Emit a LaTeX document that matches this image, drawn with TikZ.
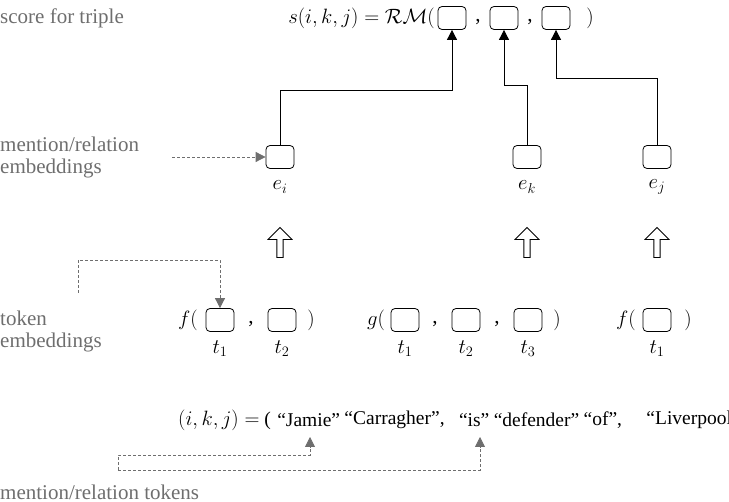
\documentclass[tikz,border=0pt]{standalone}
\usepackage{fontspec}
\setmainfont{Liberation Serif}
\usetikzlibrary{arrows.meta,shapes.arrows}
\definecolor{labelgray}{RGB}{110,110,110}
\tikzset{
  every node/.style={font=\fontsize{21}{22}\selectfont},
  slot/.style={draw, thick, rounded corners=4pt, minimum width=28pt, minimum height=23pt, inner sep=0pt},
  side/.style={text=labelgray, anchor=west, inner sep=0pt, align=left},
  word/.style={anchor=west, inner sep=0pt, font=\fontsize{19.5}{21}\selectfont},
  pointer/.style={densely dashed, thick, labelgray, -{Triangle[length=10pt,width=10pt]}},
  feed/.style={thick, -{Triangle[length=10pt,width=10pt]}},
  lift/.style={single arrow, draw, thick, shape border rotate=90, minimum height=30pt, minimum width=24pt, single arrow head extend=4pt, inner sep=1pt}
}
\begin{document}
\begin{tikzpicture}[x=1pt, y=-1pt]
  \useasboundingbox (0,0) rectangle (729,502);

  % score row
  \node[side] (score) at (0,18) {score for triple};
  \node[anchor=east, inner sep=0pt] (rm) at (435,18) {$s(i,k,j) = \mathcal{RM}($};
  \node[slot] (ri) at (452,18) {};
  \node[slot] (rk) at (504,18) {};
  \node[slot] (rj) at (556,18) {};
  \node at (478,22) {,};
  \node at (530,22) {,};
  \node at (590,18) {$)$};

  % mention/relation embeddings
  \node[side] (membtxt) at (0,157) {mention/relation\\embeddings};
  \node[slot] (ei) at (280,157) {};
  \node[slot] (ek) at (527,157) {};
  \node[slot] (ej) at (657,157) {};
  \node (eil) at (280,187) {$e_i$};
  \node (ekl) at (527,187) {$e_k$};
  \node (ejl) at (657,187) {$e_j$};
  \coordinate (membend) at (172,157);
  \draw[pointer] (membend) -- (ei.west);
  \draw[feed] (ei.north) |- (452,90) -- (ri.south);
  \draw[feed] (ek.north) |- (504,85) -- (rk.south);
  \draw[feed] (ej.north) |- (556,78) -- (rj.south);

  % composition arrows
  \node[lift] (ui) at (280,244) {};
  \node[lift] (uk) at (527,244) {};
  \node[lift] (uj) at (657,244) {};

  % token embeddings
  \node[side] (tembtxt) at (0,331) {token\\embeddings};
  \node (fa) at (188,320) {$f($};
  \node[slot] (ta) at (220,320) {};
  \node at (251,324) {,};
  \node[slot] (tb) at (282,320) {};
  \node at (311,320) {$)$};
  \node (ga) at (376,320) {$g($};
  \node[slot] (tc) at (405,320) {};
  \node at (435,324) {,};
  \node[slot] (td) at (466,320) {};
  \node at (497,324) {,};
  \node[slot] (te) at (528,320) {};
  \node at (557,320) {$)$};
  \node (fb) at (626,320) {$f($};
  \node[slot] (tf) at (657,320) {};
  \node at (688,320) {$)$};
  \node at (220,349) {$t_1$};
  \node at (282,349) {$t_2$};
  \node at (405,349) {$t_1$};
  \node at (466,349) {$t_2$};
  \node at (528,349) {$t_3$};
  \node at (657,349) {$t_1$};
  \coordinate (tembend) at (78,293);
  \draw[pointer] (tembend) |- (220,260) -- (ta.north);

  % triple tokens
  \node[word] (lhs) at (178,420) {$(i,k,j) =$ (};
  \node[word] (jamie) at ([xshift=6pt]lhs.east) {“Jamie”};
  \node[word] (carr) at ([xshift=4pt]jamie.east) {“Carragher”,};
  \node[word] (is) at ([xshift=14pt]carr.east) {“is”};
  \node[word] (def) at ([xshift=4pt]is.east) {“defender”};
  \node[word] (of) at ([xshift=4pt]def.east) {“of”,};
  \node[word] (liv) at ([xshift=24pt]of.east) {“Liverpool”\,)};
  \node[side] (mtoktxt) at (0,492) {mention/relation tokens};
  \coordinate (tokend) at (118,470);
  \coordinate (carrtip) at (310,437);
  \coordinate (deftip) at (480,437);
  \draw[pointer] (tokend) |- (310,455) -- (carrtip);
  \draw[pointer] (tokend) -| (deftip);
\end{tikzpicture}
\end{document}
